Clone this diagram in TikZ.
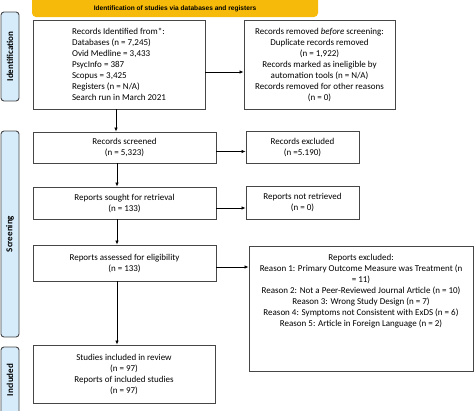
\documentclass[tikz,border=0pt]{standalone}
\usepackage{fontspec}
\setmainfont{Carlito}
\newfontfamily\bannerfont{Liberation Sans}
\usetikzlibrary{arrows.meta,calc}
\definecolor{bannery}{RGB}{245,186,10}
\definecolor{labelblue}{RGB}{214,236,250}
\definecolor{boxline}{RGB}{70,70,70}
\tikzset{
  box/.style={draw=boxline, line width=0.9pt, fill=white, inner sep=2pt,
    font=\fontsize{9}{11}\selectfont},
  arr/.style={-{Latex[length=4pt,width=3.5pt]}, line width=0.7pt, black},
  sidelabel/.style={draw=boxline, fill=labelblue, line width=0.9pt, rounded corners=3pt},
  sidetext/.style={rotate=90, font=\fontsize{9}{10}\selectfont\bfseries},
}
\begin{document}
\begin{tikzpicture}[x=1pt,y=-1pt]
\useasboundingbox (0,0) rectangle (474,410);
% banner
\path[fill=bannery, rounded corners=4pt] (32,-6) rectangle (318,17);
\node[font=\bannerfont\fontsize{6.6}{7}\selectfont\bfseries] (banner) at (175,9) {Identification of studies via databases and registers};
% side labels
\draw[sidelabel] (1,12) rectangle (19,101);
\node[sidetext] (lid) at (10,56.5) {Identification};
\draw[sidelabel] (1,131) rectangle (19,337);
\node[sidetext] (lsc) at (10,234) {Screening};
\draw[sidelabel] (1,347) rectangle (19,416);
\node[sidetext] (lin) at (10,380) {Included};
% boxes
\node[box, minimum width=172pt, minimum height=89pt, align=left] (id) at (119,64.5)
 {Records Identified from*:\\Databases (n = 7,245)\\Ovid Medline = 3,433\\PsycInfo = 387\\Scopus = 3,425\\Registers (n = N/A)\\Search run in March 2021};
\node[box, minimum width=151pt, minimum height=89pt, align=center] (rm) at (319.5,64.5)
 {Records removed \emph{before} screening:\\Duplicate records removed\\(n = 1,922)\\Records marked as ineligible by\\automation tools (n = N/A)\\Records removed for other reasons\\(n = 0)};
\node[box, minimum width=183pt, minimum height=31pt, align=center] (sc) at (124.5,147.5)
 {Records screened\\(n = 5,323)};
\node[box, minimum width=113pt, minimum height=32pt, align=center] (ex) at (302.5,147)
 {Records excluded\\(n =5.190)};
\node[box, minimum width=183pt, minimum height=32pt, align=center] (so) at (124.5,203)
 {Reports sought for retrieval\\(n = 133)};
\node[box, minimum width=113pt, minimum height=33pt, align=center] (nr) at (302.5,202.5)
 {Reports not retrieved\\(n = 0)};
\node[box, minimum width=183pt, minimum height=36pt, align=center] (as) at (124.5,263)
 {Reports assessed for eligibility\\(n = 133)};
\node[box, minimum width=224pt, minimum height=125pt, align=center] (ex2) at (361,308.5) {};
\node[font=\fontsize{9}{11}\selectfont, align=center, anchor=north] (ex2t) at ($(ex2.north)+(0,5)$)
 {Reports excluded:\\Reason 1: Primary Outcome Measure was Treatment (n\\= 11)\\Reason 2: Not a Peer-Reviewed Journal Article (n = 10)\\Reason 3: Wrong Study Design (n = 7)\\Reason 4: Symptoms not Consistent with ExDS (n = 6)\\Reason 5: Article in Foreign Language (n = 2)};
\node[box, minimum width=182pt, minimum height=58pt, align=center] (in) at (124,374)
 {Studies included in review\\(n = 97)\\Reports of included studies\\(n = 97)};
% arrows
\draw[arr] ([yshift=-7.5pt]id.east) -- ([yshift=-7.5pt]rm.west);
\draw[arr] ([xshift=-3pt]id.south) -- ([xshift=-3pt]id.south |- sc.north);
\draw[arr] ([yshift=-4pt]sc.east) -- ([yshift=-4pt]sc.east -| ex.west);
\draw[arr] ([xshift=-7.5pt]sc.south) -- ([xshift=-7.5pt]sc.south |- so.north);
\draw[arr] ([yshift=-5pt]so.east) -- ([yshift=-5pt]so.east -| nr.west);
\draw[arr] ([xshift=-7.5pt]so.south) -- ([xshift=-7.5pt]so.south |- as.north);
\draw[arr] ([yshift=-4pt]as.east) -- ([yshift=-4pt]as.east -| ex2.west);
\draw[arr] ([xshift=-7.5pt]as.south) -- ([xshift=-7.5pt]as.south |- in.north);
\end{tikzpicture}
\end{document}
